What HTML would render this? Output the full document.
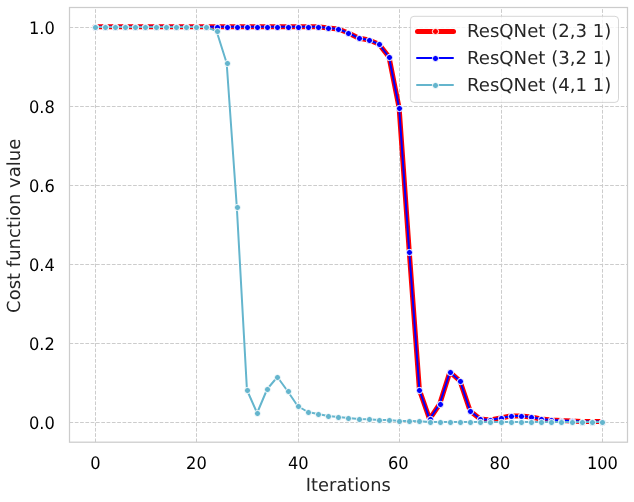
<!DOCTYPE html>
<html lang="en">
<head>
<meta charset="utf-8">
<title>Cost function value vs Iterations</title>
<style>
html,body{margin:0;padding:0;background:#fff;}
body{width:634px;height:502px;overflow:hidden;position:relative;}
svg text{text-rendering:geometricPrecision;}
</style>
</head>
<body>
<svg width="634" height="502" viewBox="0 0 634 502" style="display:block;position:absolute;left:0;top:0">
<rect width="634" height="502" fill="#fff"/>
<g stroke="#cccccc" stroke-width="1" stroke-dasharray="3.7 1.6" fill="none">
<path d="M95.5 442.2 V7.5"/>
<path d="M196.5 442.2 V7.5"/>
<path d="M298.5 442.2 V7.5"/>
<path d="M399.5 442.2 V7.5"/>
<path d="M501.5 442.2 V7.5"/>
<path d="M602.5 442.2 V7.5"/>
<path d="M69.5 422.5 H627.5"/>
<path d="M69.5 343.5 H627.5"/>
<path d="M69.5 264.5 H627.5"/>
<path d="M69.5 185.5 H627.5"/>
<path d="M69.5 106.5 H627.5"/>
<path d="M69.5 27.5 H627.5"/>
</g>
<clipPath id="ax"><rect x="69.5" y="7.5" width="558.0" height="434.7"/></clipPath>
<g clip-path="url(#ax)">
<path d="M94.77 26.70 L104.92 26.70 L115.06 26.70 L125.21 26.70 L135.35 26.70 L145.50 26.70 L155.64 26.70 L165.79 26.70 L175.93 26.70 L186.08 26.70 L196.22 26.70 L206.37 26.70 L216.51 26.70 L226.66 26.70 L236.81 26.70 L246.95 26.70 L257.10 26.70 L267.24 26.70 L277.39 26.70 L287.53 26.70 L297.68 26.70 L307.82 26.70 L317.97 26.74 L328.11 28.00 L338.26 29.00 L348.41 33.00 L358.55 38.00 L368.70 40.00 L378.84 44.00 L388.99 57.00 L399.13 108.00 L409.28 252.00 L419.42 390.00 L429.57 419.09 L439.71 404.00 L449.86 372.00 L460.00 381.00 L470.15 411.00 L480.30 419.09 L490.44 420.00 L500.59 417.99 L510.73 416.01 L520.88 415.93 L531.02 417.00 L541.17 418.94 L551.31 419.89 L561.46 420.60 L571.60 420.99 L581.75 421.51 L591.89 421.55 L602.04 421.59" fill="none" stroke="#ff0000" stroke-width="5" stroke-linejoin="round" stroke-linecap="round"/>
<g fill="#ff0000" stroke="#fff" stroke-width="1">
<circle cx="95.5" cy="27.5" r="3.1"/>
<circle cx="105.5" cy="27.5" r="3.1"/>
<circle cx="115.5" cy="27.5" r="3.1"/>
<circle cx="125.5" cy="27.5" r="3.1"/>
<circle cx="135.5" cy="27.5" r="3.1"/>
<circle cx="145.5" cy="27.5" r="3.1"/>
<circle cx="156.5" cy="27.5" r="3.1"/>
<circle cx="166.5" cy="27.5" r="3.1"/>
<circle cx="176.5" cy="27.5" r="3.1"/>
<circle cx="186.5" cy="27.5" r="3.1"/>
<circle cx="196.5" cy="27.5" r="3.1"/>
<circle cx="206.5" cy="27.5" r="3.1"/>
<circle cx="217.5" cy="27.5" r="3.1"/>
<circle cx="227.5" cy="27.5" r="3.1"/>
<circle cx="237.5" cy="27.5" r="3.1"/>
<circle cx="247.5" cy="27.5" r="3.1"/>
<circle cx="257.5" cy="27.5" r="3.1"/>
<circle cx="267.5" cy="27.5" r="3.1"/>
<circle cx="277.5" cy="27.5" r="3.1"/>
<circle cx="288.5" cy="27.5" r="3.1"/>
<circle cx="298.5" cy="27.5" r="3.1"/>
<circle cx="308.5" cy="27.5" r="3.1"/>
<circle cx="318.5" cy="27.5" r="3.1"/>
<circle cx="328.5" cy="28.5" r="3.1"/>
<circle cx="338.5" cy="29.5" r="3.1"/>
<circle cx="348.5" cy="33.5" r="3.1"/>
<circle cx="359.5" cy="38.5" r="3.1"/>
<circle cx="369.5" cy="40.5" r="3.1"/>
<circle cx="379.5" cy="44.5" r="3.1"/>
<circle cx="389.5" cy="57.5" r="3.1"/>
<circle cx="399.5" cy="108.5" r="3.1"/>
<circle cx="409.5" cy="252.5" r="3.1"/>
<circle cx="419.5" cy="390.5" r="3.1"/>
<circle cx="430.5" cy="419.5" r="3.1"/>
<circle cx="440.5" cy="404.5" r="3.1"/>
<circle cx="450.5" cy="372.5" r="3.1"/>
<circle cx="460.5" cy="381.5" r="3.1"/>
<circle cx="470.5" cy="411.5" r="3.1"/>
<circle cx="480.5" cy="419.5" r="3.1"/>
<circle cx="490.5" cy="420.5" r="3.1"/>
<circle cx="501.5" cy="418.5" r="3.1"/>
<circle cx="511.5" cy="416.5" r="3.1"/>
<circle cx="521.5" cy="416.5" r="3.1"/>
<circle cx="531.5" cy="417.5" r="3.1"/>
<circle cx="541.5" cy="419.5" r="3.1"/>
<circle cx="551.5" cy="420.5" r="3.1"/>
<circle cx="561.5" cy="421.5" r="3.1"/>
<circle cx="572.5" cy="421.5" r="3.1"/>
<circle cx="582.5" cy="422.5" r="3.1"/>
<circle cx="592.5" cy="422.5" r="3.1"/>
<circle cx="602.5" cy="422.5" r="3.1"/>
</g>
<path d="M94.77 26.70 L104.92 26.70 L115.06 26.70 L125.21 26.70 L135.35 26.70 L145.50 26.70 L155.64 26.70 L165.79 26.70 L175.93 26.70 L186.08 26.70 L196.22 26.70 L206.37 26.70 L216.51 26.70 L226.66 26.70 L236.81 26.70 L246.95 26.70 L257.10 26.70 L267.24 26.70 L277.39 26.70 L287.53 26.70 L297.68 26.70 L307.82 26.70 L317.97 26.74 L328.11 28.00 L338.26 29.00 L348.41 33.00 L358.55 38.00 L368.70 40.00 L378.84 44.00 L388.99 57.00 L399.13 108.00 L409.28 252.00 L419.42 390.00 L429.57 419.09 L439.71 404.00 L449.86 372.00 L460.00 381.00 L470.15 411.00 L480.30 419.09 L490.44 420.00 L500.59 417.99 L510.73 416.01 L520.88 415.93 L531.02 417.00 L541.17 418.94 L551.31 419.89 L561.46 420.60 L571.60 420.99 L581.75 421.51 L591.89 421.55 L602.04 421.59" fill="none" stroke="#0000ff" stroke-width="2" stroke-linejoin="round" stroke-linecap="round"/>
<g fill="#0000ff" stroke="#fff" stroke-width="1">
<circle cx="95.5" cy="27.5" r="3.1"/>
<circle cx="105.5" cy="27.5" r="3.1"/>
<circle cx="115.5" cy="27.5" r="3.1"/>
<circle cx="125.5" cy="27.5" r="3.1"/>
<circle cx="135.5" cy="27.5" r="3.1"/>
<circle cx="145.5" cy="27.5" r="3.1"/>
<circle cx="156.5" cy="27.5" r="3.1"/>
<circle cx="166.5" cy="27.5" r="3.1"/>
<circle cx="176.5" cy="27.5" r="3.1"/>
<circle cx="186.5" cy="27.5" r="3.1"/>
<circle cx="196.5" cy="27.5" r="3.1"/>
<circle cx="206.5" cy="27.5" r="3.1"/>
<circle cx="217.5" cy="27.5" r="3.1"/>
<circle cx="227.5" cy="27.5" r="3.1"/>
<circle cx="237.5" cy="27.5" r="3.1"/>
<circle cx="247.5" cy="27.5" r="3.1"/>
<circle cx="257.5" cy="27.5" r="3.1"/>
<circle cx="267.5" cy="27.5" r="3.1"/>
<circle cx="277.5" cy="27.5" r="3.1"/>
<circle cx="288.5" cy="27.5" r="3.1"/>
<circle cx="298.5" cy="27.5" r="3.1"/>
<circle cx="308.5" cy="27.5" r="3.1"/>
<circle cx="318.5" cy="27.5" r="3.1"/>
<circle cx="328.5" cy="28.5" r="3.1"/>
<circle cx="338.5" cy="29.5" r="3.1"/>
<circle cx="348.5" cy="33.5" r="3.1"/>
<circle cx="359.5" cy="38.5" r="3.1"/>
<circle cx="369.5" cy="40.5" r="3.1"/>
<circle cx="379.5" cy="44.5" r="3.1"/>
<circle cx="389.5" cy="57.5" r="3.1"/>
<circle cx="399.5" cy="108.5" r="3.1"/>
<circle cx="409.5" cy="252.5" r="3.1"/>
<circle cx="419.5" cy="390.5" r="3.1"/>
<circle cx="430.5" cy="419.5" r="3.1"/>
<circle cx="440.5" cy="404.5" r="3.1"/>
<circle cx="450.5" cy="372.5" r="3.1"/>
<circle cx="460.5" cy="381.5" r="3.1"/>
<circle cx="470.5" cy="411.5" r="3.1"/>
<circle cx="480.5" cy="419.5" r="3.1"/>
<circle cx="490.5" cy="420.5" r="3.1"/>
<circle cx="501.5" cy="418.5" r="3.1"/>
<circle cx="511.5" cy="416.5" r="3.1"/>
<circle cx="521.5" cy="416.5" r="3.1"/>
<circle cx="531.5" cy="417.5" r="3.1"/>
<circle cx="541.5" cy="419.5" r="3.1"/>
<circle cx="551.5" cy="420.5" r="3.1"/>
<circle cx="561.5" cy="421.5" r="3.1"/>
<circle cx="572.5" cy="421.5" r="3.1"/>
<circle cx="582.5" cy="422.5" r="3.1"/>
<circle cx="592.5" cy="422.5" r="3.1"/>
<circle cx="602.5" cy="422.5" r="3.1"/>
</g>
<path d="M94.77 27.10 L104.92 27.10 L115.06 27.10 L125.21 27.10 L135.35 27.10 L145.50 27.10 L155.64 27.10 L165.79 27.10 L175.93 27.10 L186.08 27.10 L196.22 27.10 L206.37 27.10 L216.51 31.00 L226.66 63.00 L236.81 207.00 L246.95 390.00 L257.10 413.00 L267.24 389.00 L277.39 377.00 L287.53 391.00 L297.68 406.00 L307.82 412.00 L317.97 414.00 L328.11 416.00 L338.26 417.00 L348.41 418.00 L358.55 419.00 L368.70 419.33 L378.84 420.00 L388.99 420.12 L399.13 420.99 L409.28 421.07 L419.42 421.23 L429.57 421.90 L439.71 422.10 L449.86 422.10 L460.00 422.10 L470.15 422.10 L480.30 422.10 L490.44 422.10 L500.59 422.10 L510.73 422.10 L520.88 422.10 L531.02 422.10 L541.17 422.10 L551.31 422.10 L561.46 422.10 L571.60 422.10 L581.75 422.10 L591.89 422.10 L602.04 422.10" fill="none" stroke="#64b5cd" stroke-width="2" stroke-linejoin="round" stroke-linecap="round"/>
<g fill="#64b5cd" stroke="#fff" stroke-width="1">
<circle cx="95.5" cy="27.5" r="3.1"/>
<circle cx="105.5" cy="27.5" r="3.1"/>
<circle cx="115.5" cy="27.5" r="3.1"/>
<circle cx="125.5" cy="27.5" r="3.1"/>
<circle cx="135.5" cy="27.5" r="3.1"/>
<circle cx="145.5" cy="27.5" r="3.1"/>
<circle cx="156.5" cy="27.5" r="3.1"/>
<circle cx="166.5" cy="27.5" r="3.1"/>
<circle cx="176.5" cy="27.5" r="3.1"/>
<circle cx="186.5" cy="27.5" r="3.1"/>
<circle cx="196.5" cy="27.5" r="3.1"/>
<circle cx="206.5" cy="27.5" r="3.1"/>
<circle cx="217.5" cy="31.5" r="3.1"/>
<circle cx="227.5" cy="63.5" r="3.1"/>
<circle cx="237.5" cy="207.5" r="3.1"/>
<circle cx="247.5" cy="390.5" r="3.1"/>
<circle cx="257.5" cy="413.5" r="3.1"/>
<circle cx="267.5" cy="389.5" r="3.1"/>
<circle cx="277.5" cy="377.5" r="3.1"/>
<circle cx="288.5" cy="391.5" r="3.1"/>
<circle cx="298.5" cy="406.5" r="3.1"/>
<circle cx="308.5" cy="412.5" r="3.1"/>
<circle cx="318.5" cy="414.5" r="3.1"/>
<circle cx="328.5" cy="416.5" r="3.1"/>
<circle cx="338.5" cy="417.5" r="3.1"/>
<circle cx="348.5" cy="418.5" r="3.1"/>
<circle cx="359.5" cy="419.5" r="3.1"/>
<circle cx="369.5" cy="419.5" r="3.1"/>
<circle cx="379.5" cy="420.5" r="3.1"/>
<circle cx="389.5" cy="420.5" r="3.1"/>
<circle cx="399.5" cy="421.5" r="3.1"/>
<circle cx="409.5" cy="421.5" r="3.1"/>
<circle cx="419.5" cy="421.5" r="3.1"/>
<circle cx="430.5" cy="422.5" r="3.1"/>
<circle cx="440.5" cy="422.5" r="3.1"/>
<circle cx="450.5" cy="422.5" r="3.1"/>
<circle cx="460.5" cy="422.5" r="3.1"/>
<circle cx="470.5" cy="422.5" r="3.1"/>
<circle cx="480.5" cy="422.5" r="3.1"/>
<circle cx="490.5" cy="422.5" r="3.1"/>
<circle cx="501.5" cy="422.5" r="3.1"/>
<circle cx="511.5" cy="422.5" r="3.1"/>
<circle cx="521.5" cy="422.5" r="3.1"/>
<circle cx="531.5" cy="422.5" r="3.1"/>
<circle cx="541.5" cy="422.5" r="3.1"/>
<circle cx="551.5" cy="422.5" r="3.1"/>
<circle cx="561.5" cy="422.5" r="3.1"/>
<circle cx="572.5" cy="422.5" r="3.1"/>
<circle cx="582.5" cy="422.5" r="3.1"/>
<circle cx="592.5" cy="422.5" r="3.1"/>
<circle cx="602.5" cy="422.5" r="3.1"/>
</g>
</g>
<rect x="69.5" y="7.5" width="558.0" height="434.7" fill="none" stroke="#cccccc" stroke-width="1.25"/>
<g font-family="'DejaVu Sans', 'Liberation Sans', sans-serif" font-size="16.5" fill="#000">
<text transform="translate(95.30 468.80) scale(0.985 1.045)" text-anchor="middle">0</text>
<text transform="translate(196.40 468.80) scale(0.985 1.045)" text-anchor="middle">20</text>
<text transform="translate(298.30 468.80) scale(0.985 1.045)" text-anchor="middle">40</text>
<text transform="translate(398.30 468.80) scale(0.985 1.045)" text-anchor="middle">60</text>
<text transform="translate(499.90 468.80) scale(0.985 1.045)" text-anchor="middle">80</text>
<text transform="translate(602.40 468.80) scale(0.985 1.045)" text-anchor="middle">100</text>
<text transform="translate(29.00 429.10) scale(0.985 1.045)" text-anchor="start">0.0</text>
<text transform="translate(29.00 350.10) scale(0.985 1.045)" text-anchor="start">0.2</text>
<text transform="translate(29.00 271.10) scale(0.985 1.045)" text-anchor="start">0.4</text>
<text transform="translate(29.00 192.10) scale(0.985 1.045)" text-anchor="start">0.6</text>
<text transform="translate(29.00 113.10) scale(0.985 1.045)" text-anchor="start">0.8</text>
<text transform="translate(29.00 34.10) scale(0.985 1.045)" text-anchor="start">1.0</text>
</g>
<g font-family="'DejaVu Sans', 'Liberation Sans', sans-serif" font-size="18" fill="#262626">
<text transform="translate(348.30 490.70) scale(0.99 1.0)" text-anchor="middle">Iterations</text>
<text transform="translate(20.10 225.80) rotate(-90) scale(1.0 1.0)" text-anchor="middle">Cost function value</text>
</g>
<rect x="410.4" y="16.3" width="208.10000000000002" height="86.10000000000001" rx="3.6" ry="3.6" fill="#fff" fill-opacity="0.8" stroke="#cccccc" stroke-opacity="0.8" stroke-width="1"/>
<path d="M417.5 31.5 H453.5" stroke="#ff0000" stroke-width="5" stroke-linecap="round" fill="none"/>
<circle cx="435.5" cy="31.5" r="3.1" fill="#ff0000" stroke="#fff" stroke-width="1"/>
<path d="M417.0 58.0 H453.0" stroke="#0000ff" stroke-width="2" stroke-linecap="round" fill="none"/>
<circle cx="435.5" cy="58.5" r="3.1" fill="#0000ff" stroke="#fff" stroke-width="1"/>
<path d="M417.0 85.0 H453.0" stroke="#64b5cd" stroke-width="2" stroke-linecap="round" fill="none"/>
<circle cx="435.5" cy="85.5" r="3.1" fill="#64b5cd" stroke="#fff" stroke-width="1"/>
<g font-family="'DejaVu Sans', 'Liberation Sans', sans-serif" font-size="18" fill="#262626">
<text transform="translate(467.00 36.80) scale(1.006 1.0)" text-anchor="start">ResQNet (2,3 1)</text>
<text transform="translate(467.00 63.70) scale(1.006 1.0)" text-anchor="start">ResQNet (3,2 1)</text>
<text transform="translate(467.00 90.50) scale(1.006 1.0)" text-anchor="start">ResQNet (4,1 1)</text>
</g>
</svg>
</body>
</html>
